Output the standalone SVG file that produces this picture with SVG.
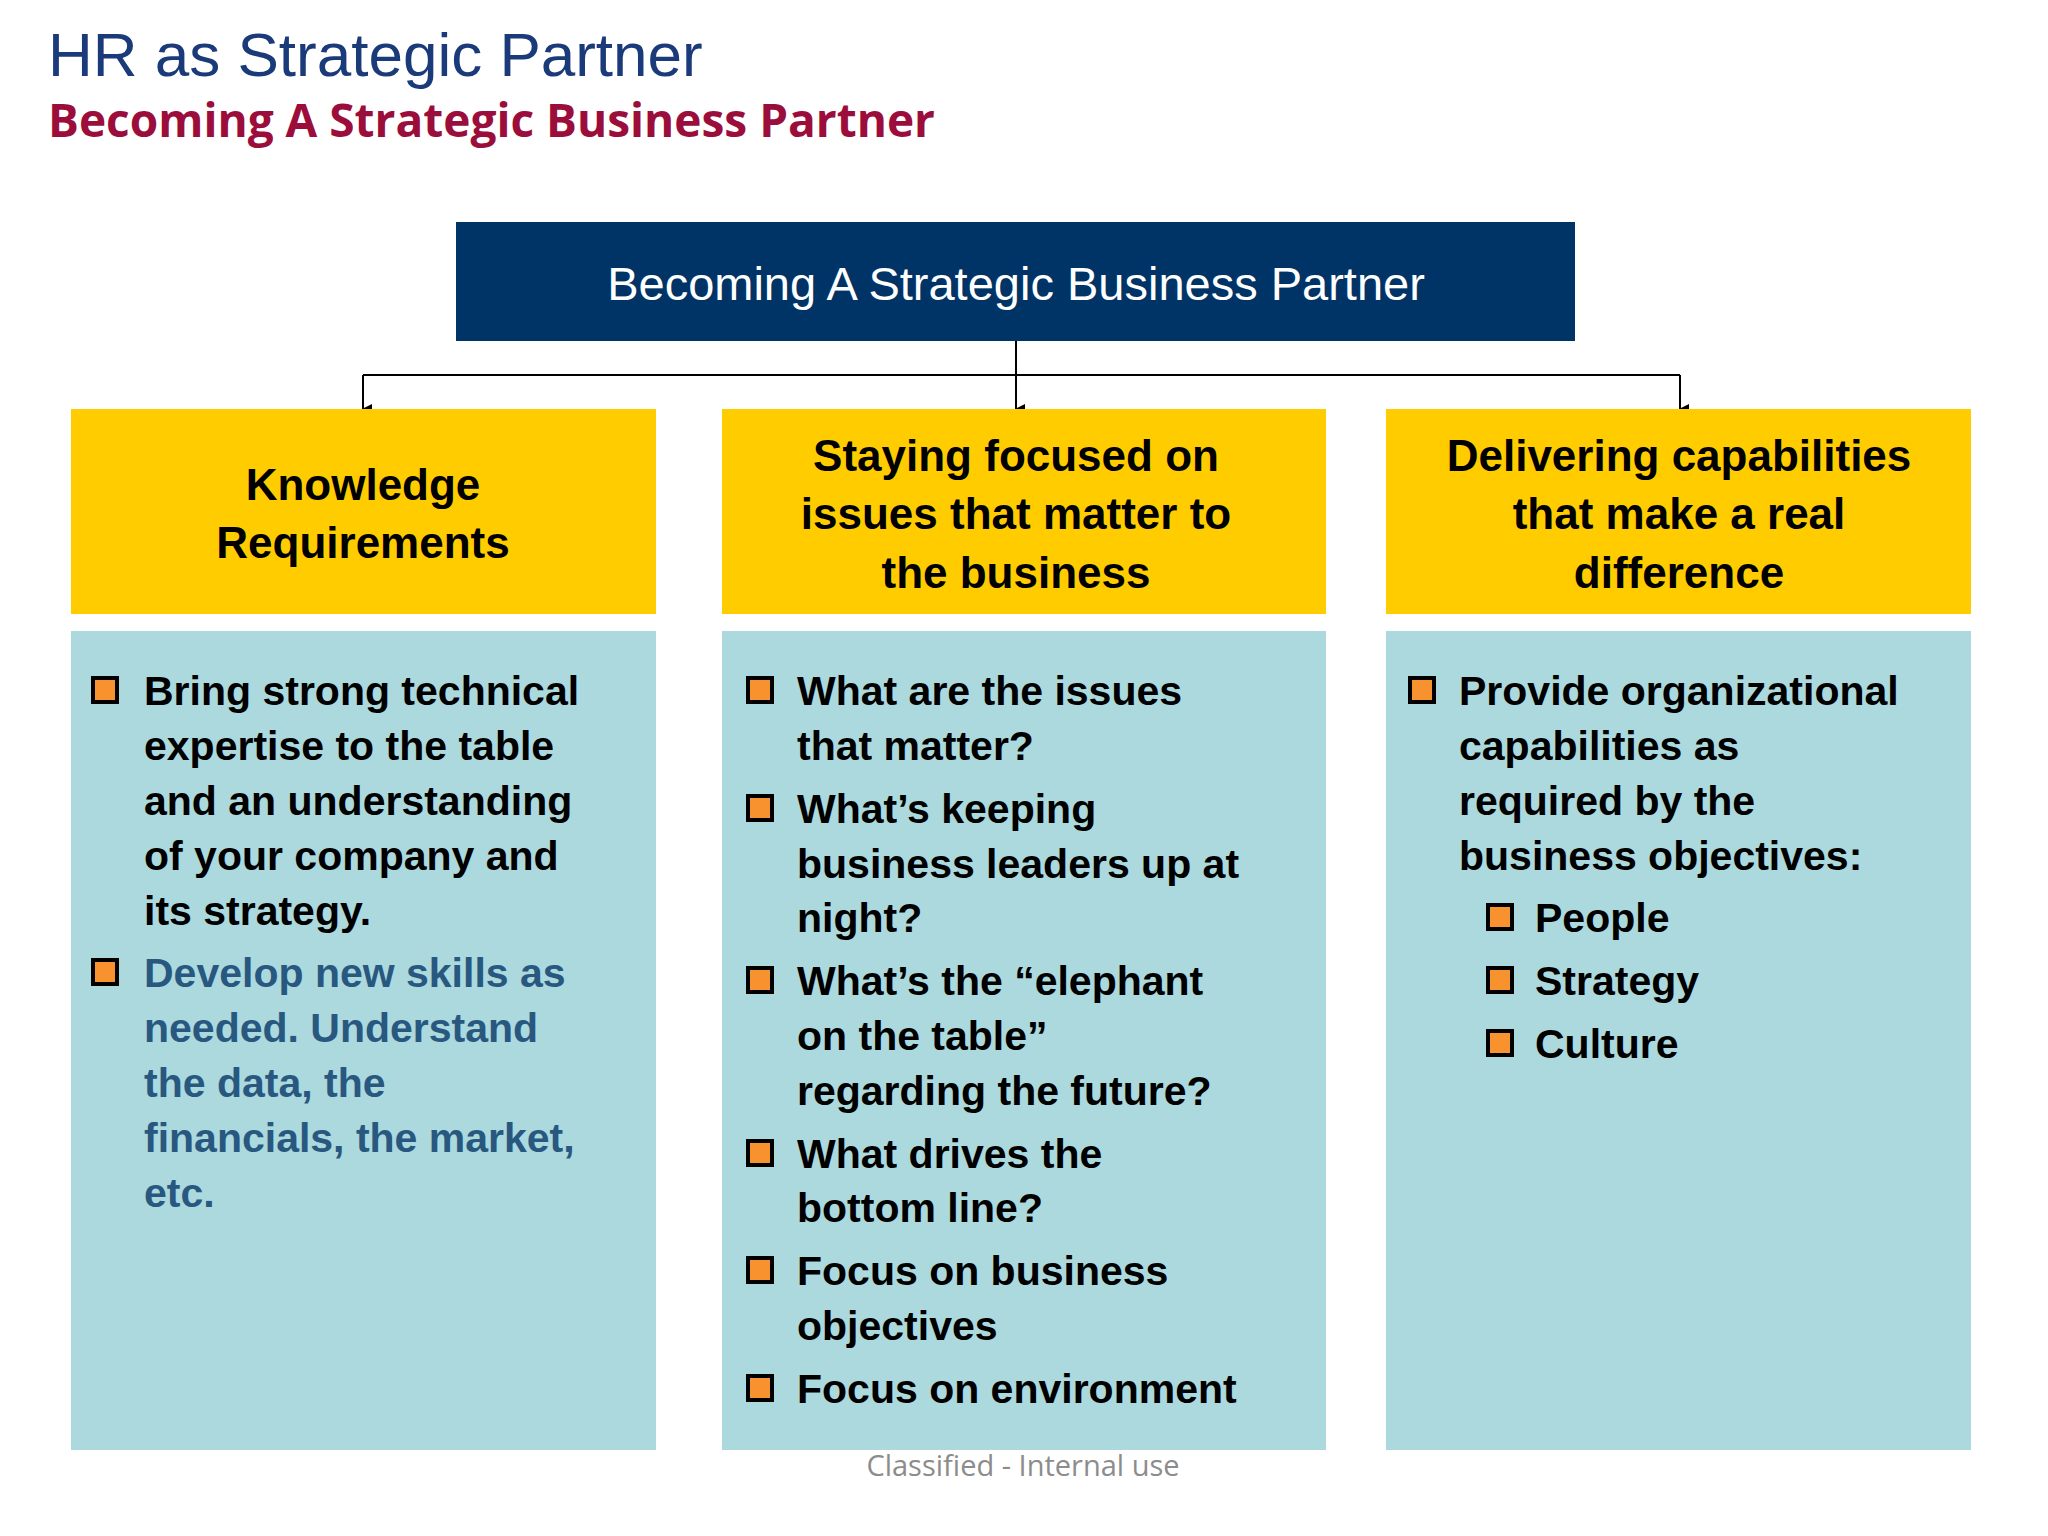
<svg xmlns="http://www.w3.org/2000/svg" width="2048" height="1536" viewBox="0 0 2048 1536">
<defs>
<marker id="ah" markerWidth="10" markerHeight="10" refX="5" refY="9" orient="auto-start-reverse" markerUnits="userSpaceOnUse" viewBox="0 0 10 10"><path d="M0,0 L10,0 L5,10 z" fill="#000"/></marker>
</defs>
<style>
text{font-family:"Liberation Sans",Arial,sans-serif}
.hd{font-size:44px;font-weight:bold;fill:#000;text-anchor:middle}
.bd{font-size:41px;font-weight:bold;fill:#000}
.bl{fill:#28587f}
.yel{fill:#FFCC00}
.blu{fill:#ABD9DE}
.sq{fill:#F7922E;stroke:#000;stroke-width:4}
.cn{stroke:#000;stroke-width:2;fill:none}
</style>
<rect width="2048" height="1536" fill="#fff"/>
<text x="48" y="76" font-size="62" fill="#1a3a7a">HR as Strategic Partner</text>
<text x="48" y="137" font-size="46" font-weight="bold" fill="#9b0d3a" style="font-family:'Open Sans',sans-serif">Becoming A Strategic Business Partner</text>
<g id="top"><rect x="456" y="222" width="1119" height="119" fill="#003366"/>
<text x="1016" y="300" font-size="47" fill="#fff" text-anchor="middle">Becoming A Strategic Business Partner</text></g>
<g id="connectors">
<path class="cn" d="M1016,341 V375 M363,375 H1680"/>
<path class="cn" d="M363,375 V409" marker-end="url(#ah)"/>
<path class="cn" d="M1016,375 V409" marker-end="url(#ah)"/>
<path class="cn" d="M1680,375 V409" marker-end="url(#ah)"/>
</g>
<g id="col1">
<rect class="yel" x="71" y="409" width="585" height="205"/>
<text class="hd" x="363" y="500">Knowledge</text><text class="hd" x="363" y="558">Requirements</text>
<rect class="blu" x="71" y="631" width="585" height="819"/>
<rect class="sq" x="93" y="678" width="24" height="24"/>
<text class="bd" x="144"><tspan x="144" y="705">Bring strong technical</tspan><tspan x="144" y="760">expertise to the table</tspan><tspan x="144" y="815">and an understanding</tspan><tspan x="144" y="870">of your company and</tspan><tspan x="144" y="925">its strategy.</tspan></text>
<rect class="sq" x="93" y="960" width="24" height="24"/>
<text class="bd bl"><tspan x="144" y="987">Develop new skills as</tspan><tspan x="144" y="1042">needed. Understand</tspan><tspan x="144" y="1097">the data, the</tspan><tspan x="144" y="1152">financials, the market,</tspan><tspan x="144" y="1207">etc.</tspan></text>
</g>
<g id="col2">
<rect class="yel" x="722" y="409" width="604" height="205"/>
<text class="hd" x="1016" y="471">Staying focused on</text><text class="hd" x="1016" y="529">issues that matter to</text><text class="hd" x="1016" y="588">the business</text>
<rect class="blu" x="722" y="631" width="604" height="819"/>
<rect class="sq" x="748" y="678" width="24" height="24"/>
<rect class="sq" x="748" y="796" width="24" height="24"/>
<rect class="sq" x="748" y="968" width="24" height="24"/>
<rect class="sq" x="748" y="1141" width="24" height="24"/>
<rect class="sq" x="748" y="1258" width="24" height="24"/>
<rect class="sq" x="748" y="1376" width="24" height="24"/>
<text class="bd"><tspan x="797" y="705">What are the issues</tspan><tspan x="797" y="760">that matter?</tspan><tspan x="797" y="823">What’s keeping</tspan><tspan x="797" y="878">business leaders up at</tspan><tspan x="797" y="932">night?</tspan><tspan x="797" y="995">What’s the “elephant</tspan><tspan x="797" y="1050">on the table”</tspan><tspan x="797" y="1105">regarding the future?</tspan><tspan x="797" y="1168">What drives the</tspan><tspan x="797" y="1222">bottom line?</tspan><tspan x="797" y="1285">Focus on business</tspan><tspan x="797" y="1340">objectives</tspan><tspan x="797" y="1403">Focus on environment</tspan></text>
</g>
<g id="col3">
<rect class="yel" x="1386" y="409" width="585" height="205"/>
<text class="hd" x="1679" y="471">Delivering capabilities</text><text class="hd" x="1679" y="529">that make a real</text><text class="hd" x="1679" y="588">difference</text>
<rect class="blu" x="1386" y="631" width="585" height="819"/>
<rect class="sq" x="1410" y="678" width="24" height="24"/>
<text class="bd"><tspan x="1459" y="705">Provide organizational</tspan><tspan x="1459" y="760">capabilities as</tspan><tspan x="1459" y="815">required by the</tspan><tspan x="1459" y="870">business objectives:</tspan></text>
<rect class="sq" x="1488" y="905" width="24" height="24"/>
<rect class="sq" x="1488" y="968" width="24" height="24"/>
<rect class="sq" x="1488" y="1031" width="24" height="24"/>
<text class="bd"><tspan x="1535" y="932">People</tspan><tspan x="1535" y="995">Strategy</tspan><tspan x="1535" y="1058">Culture</tspan></text>
</g>
<text x="1023" y="1476" font-size="29" fill="#8c8c8c" text-anchor="middle" style="font-family:'Open Sans',sans-serif">Classified - Internal use</text>
</svg>
